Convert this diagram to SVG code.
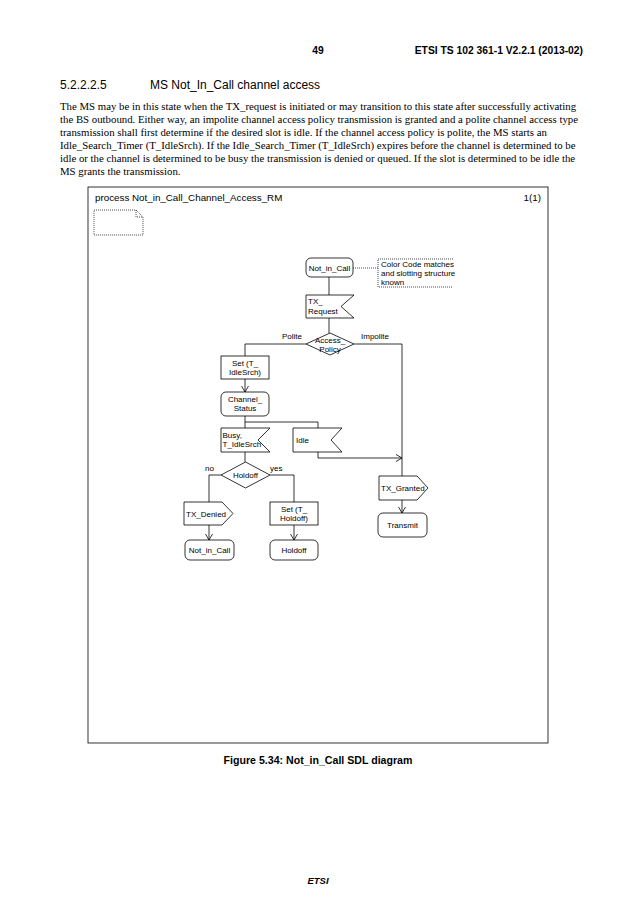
<svg xmlns="http://www.w3.org/2000/svg" width="638" height="903" viewBox="0 0 638 903">
<style>
text{font-family:"Liberation Sans",Arial,sans-serif;fill:#000}
.hd{font-size:10.3px;font-weight:bold}
.h2{font-size:12px}
.p{font-family:"Liberation Serif","Times New Roman",serif;font-size:10.8px}
.t{font-size:9.8px}
.s{font-size:8px}
.c{text-anchor:middle}
.sym{fill:#fff;stroke:#000;stroke-width:0.8}
.dot{fill:none;stroke:#000;stroke-width:0.7;stroke-dasharray:1,1}
.ln{fill:none;stroke:#000;stroke-width:0.8}
</style>
<defs>
<marker id="ar" markerWidth="8" markerHeight="8" refX="6" refY="4" orient="auto" markerUnits="userSpaceOnUse">
<polyline points="0,0.5 6,4 0,7.5" fill="none" stroke="#000" stroke-width="0.8"/>
</marker>
</defs>
<rect width="638" height="903" fill="#fff"/>
<g id="header">
<text class="hd c" x="318" y="54">49</text>
<text class="hd" x="583" y="54" text-anchor="end">ETSI TS 102 361-1 V2.2.1 (2013-02)</text>
<text class="h2" x="60" y="89">5.2.2.2.5</text>
<text class="h2" x="150" y="89">MS Not_In_Call channel access</text>
</g>
<g id="paragraph">
<text class="p" x="60" y="110">The MS may be in this state when the TX_request is initiated or may transition to this state after successfully activating</text>
<text class="p" x="60" y="123">the BS outbound. Either way, an impolite channel access policy transmission is granted and a polite channel access type</text>
<text class="p" x="60" y="136">transmission shall first determine if the desired slot is idle. If the channel access policy is polite, the MS starts an</text>
<text class="p" x="60" y="149">Idle_Search_Timer (T_IdleSrch). If the Idle_Search_Timer (T_IdleSrch) expires before the channel is determined to be</text>
<text class="p" x="60" y="162">idle or the channel is determined to be busy the transmission is denied or queued. If the slot is determined to be idle the</text>
<text class="p" x="60" y="175">MS grants the transmission.</text>
</g>
<g id="frame">
<rect x="88" y="187" width="460" height="556" fill="none" stroke="#000" stroke-width="0.8"/>
<text class="t" x="95" y="201">process Not_in_Call_Channel_Access_RM</text>
<text class="t" x="541" y="201" text-anchor="end">1(1)</text>
</g>
<g id="note-symbol">
<path class="dot" d="M94,210 H136 L143,217 V235 H94 Z M136,210 V217 H143"/>
</g>
<g id="connectors">
<line class="ln" x1="329" y1="277" x2="329" y2="295"/>
<line class="ln" x1="329" y1="318" x2="329" y2="333"/>
<polyline class="ln" points="306,344 245,344 245,356"/>
<polyline class="ln" points="354,344 402,344 402,476"/>
<line class="ln" x1="245" y1="379" x2="245" y2="392" marker-end="url(#ar)"/>
<line class="ln" x1="245" y1="416" x2="245" y2="428"/>
<polyline class="ln" points="245,422 318,422 318,428"/>
<polyline class="ln" points="318,452 318,458 402,458" marker-end="url(#ar)"/>
<line class="ln" x1="245" y1="452" x2="245" y2="462"/>
<polyline class="ln" points="221,475 209,475 209,502"/>
<polyline class="ln" points="270,475 294,475 294,502"/>
<line class="ln" x1="402" y1="500" x2="402" y2="513" marker-end="url(#ar)"/>
<line class="ln" x1="209" y1="525" x2="209" y2="540" marker-end="url(#ar)"/>
<line class="ln" x1="294" y1="525" x2="294" y2="540" marker-end="url(#ar)"/>
<line class="dot" x1="353" y1="268" x2="378" y2="268"/>
</g>
<g id="start-state">
<rect class="sym" x="306" y="258" width="47" height="19" rx="5"/>
<text class="s c" x="329.5" y="270.5">Not_in_Call</text>
</g>
<g id="comment">
<path class="dot" d="M453,259 H378 V287 H453"/>
<text class="s" x="381" y="267">Color Code matches</text>
<text class="s" x="381" y="276">and slotting structure</text>
<text class="s" x="381" y="285">known</text>
</g>
<g id="tx-request">
<polygon class="sym" points="306,295 354,295 341,306.5 354,318 306,318"/>
<text class="s" x="308" y="304">TX_</text>
<text class="s" x="308" y="314">Request</text>
</g>
<g id="access-policy">
<polygon class="sym" points="330,333 354,344 330,355 306,344"/>
<text class="s c" x="330" y="343">Access_</text>
<text class="s c" x="330" y="352">Policy</text>
<text class="s" x="282" y="339">Polite</text>
<text class="s" x="361" y="339">Impolite</text>
</g>
<g id="set-idlesrch">
<rect class="sym" x="221" y="356" width="48" height="23"/>
<text class="s c" x="245" y="366">Set (T_</text>
<text class="s c" x="245" y="375">IdleSrch)</text>
</g>
<g id="channel-status">
<rect class="sym" x="221" y="392" width="48" height="24" rx="5"/>
<text class="s c" x="245" y="402">Channel_</text>
<text class="s c" x="245" y="411">Status</text>
</g>
<g id="busy">
<polygon class="sym" points="221,428 270,428 258,440 270,452 221,452"/>
<text class="s" x="222.5" y="438">Busy,</text>
<text class="s" x="222.5" y="447">T_IdleSrch</text>
</g>
<g id="idle">
<polygon class="sym" points="293,428 342,428 331,440 342,452 293,452"/>
<text class="s" x="296" y="443">Idle</text>
</g>
<g id="holdoff-decision">
<polygon class="sym" points="245.5,462 270,475 245.5,488 221,475"/>
<text class="s c" x="245.5" y="478">Holdoff</text>
<text class="s" x="205" y="471">no</text>
<text class="s" x="270" y="471">yes</text>
</g>
<g id="tx-granted">
<polygon class="sym" points="379,476 417,476 428,488 417,500 379,500"/>
<text class="s" x="381" y="491">TX_Granted</text>
</g>
<g id="transmit">
<rect class="sym" x="378" y="513" width="49" height="24" rx="5"/>
<text class="s c" x="402.5" y="528">Transmit</text>
</g>
<g id="tx-denied">
<polygon class="sym" points="184,502 222,502 233,513.5 222,525 184,525"/>
<text class="s" x="186" y="516.5">TX_Denied</text>
</g>
<g id="set-holdoff">
<rect class="sym" x="270" y="502" width="48" height="23"/>
<text class="s c" x="294" y="512">Set (T_</text>
<text class="s c" x="294" y="521">Holdoff)</text>
</g>
<g id="end-not-in-call">
<rect class="sym" x="185" y="540" width="49" height="20" rx="5"/>
<text class="s c" x="209.5" y="553">Not_in_Call</text>
</g>
<g id="end-holdoff">
<rect class="sym" x="270" y="540" width="48" height="20" rx="5"/>
<text class="s c" x="294" y="553">Holdoff</text>
</g>
<g id="caption">
<text class="c" x="318" y="764" style="font-size:10.6px;font-weight:bold">Figure 5.34: Not_in_Call SDL diagram</text>
<text class="c" x="318" y="884" style="font-size:9.5px;font-weight:bold;font-style:italic">ETSI</text>
</g>
</svg>
